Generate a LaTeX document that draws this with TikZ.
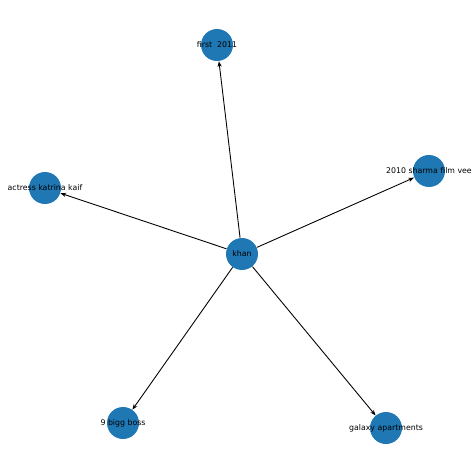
\documentclass[tikz,border=0pt]{standalone}
\usepackage{fontspec}
\setmainfont{DejaVu Sans}
\usetikzlibrary{arrows.meta}
\definecolor{nodeblue}{HTML}{1F77B4}
\begin{document}
\begin{tikzpicture}[x=0.02cm,y=-0.02cm,
  vert/.style={circle,fill=nodeblue,minimum size=0.64cm,inner sep=0pt},
  lab/.style={font=\fontsize{4.45}{5}\selectfont,text=black},
  edge/.style={draw=black,line width=0.5pt,-{Stealth[length=3.2pt,width=2.4pt]}}]
\useasboundingbox (0,0) rectangle (474,474);
\node[vert] (khan) at (242,254) {};
\node[vert] (first) at (217,45) {};
\node[vert] (actress) at (45,188) {};
\node[vert] (sharma) at (429,171) {};
\node[vert] (bigg) at (123,423) {};
\node[vert] (galaxy) at (386,428) {};
\draw[edge] (khan) -- (first);
\draw[edge] (khan) -- (actress);
\draw[edge] (khan) -- (sharma);
\draw[edge] (khan) -- (bigg);
\draw[edge] (khan) -- (galaxy);
\node[lab] at (khan) {khan};
\node[lab] at (first) {first\ \ 2011};
\node[lab] at (actress) {actress katrina kaif};
\node[lab] at (sharma) {2010 sharma film vee};
\node[lab] at (bigg) {9 bigg boss};
\node[lab] at (galaxy) {galaxy apartments};
\end{tikzpicture}
\end{document}
